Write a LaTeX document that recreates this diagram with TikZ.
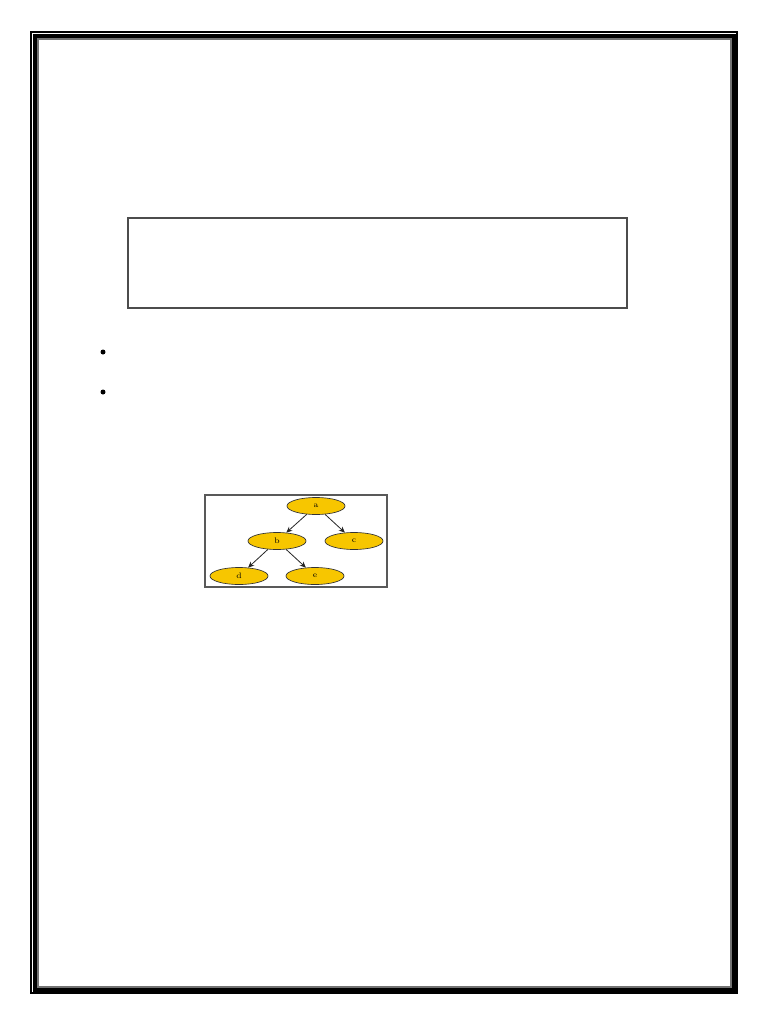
\documentclass[tikz,border=0pt]{standalone}
\usetikzlibrary{arrows.meta,shapes.geometric}
\definecolor{gold}{HTML}{F7C600}
\begin{document}
\begin{tikzpicture}[x=0.75pt,y=-0.75pt,
  treenode/.style={ellipse,draw=black!80,line width=0.5pt,fill=gold,minimum width=58*0.75pt,minimum height=17*0.75pt,inner sep=0pt,font=\fontsize{6}{7}\selectfont},
  treeedge/.style={-{Stealth[length=4.5pt,width=4pt]},line width=0.6pt,black!85},
  bulletdot/.style={circle,fill=black,inner sep=0pt,minimum size=5*0.75pt}]
\useasboundingbox (0,0) rectangle (768,1024);
\fill[white] (0,0) rectangle (768,1024);
% page border
\draw[line width=0.9pt] (31,32) rectangle (737,993);
\draw[line width=2.4pt] (35,36) rectangle (734,990);
\draw[line width=0.8pt,black!55] (38,39) rectangle (731,987);
% empty box
\draw[line width=1.1pt,black!70] (128,218) rectangle (627,308);
% bullets
\node[bulletdot] (b1) at (103,352) {};
\node[bulletdot] (b2) at (103,392) {};
% tree picture frame
\draw[line width=1.1pt,black!65] (205,495) rectangle (387,587);
\node[treenode] (a) at (316,506) {a};
\node[treenode] (b) at (277,541) {b};
\node[treenode] (c) at (354,541) {c};
\node[treenode] (d) at (239,576) {d};
\node[treenode] (e) at (315,576) {e};
\draw[treeedge] (a) -- (b);
\draw[treeedge] (a) -- (c);
\draw[treeedge] (b) -- (d);
\draw[treeedge] (b) -- (e);
\end{tikzpicture}
\end{document}
